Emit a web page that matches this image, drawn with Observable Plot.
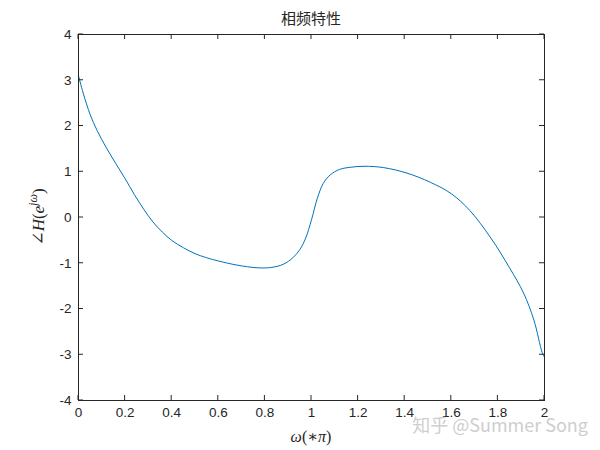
<!DOCTYPE html>
<html>
<head>
<meta charset="utf-8">
<script src="https://cdn.jsdelivr.net/npm/d3@7"></script>
<script src="https://cdn.jsdelivr.net/npm/@observablehq/plot@0.6"></script>
<style>
  html, body { margin: 0; padding: 0; background: #fff; }
  #chart { width: 600px; height: 450px; }
</style>
</head>
<body>
<div id="chart"></div>
<script>
// ---- data ----
const omega = [0, 0.02, 0.05, 0.08, 0.12, 0.16, 0.20, 0.24, 0.28, 0.32, 0.36, 0.40, 0.45, 0.50, 0.55, 0.60, 0.68, 0.77, 0.83, 0.88, 0.92, 0.95, 0.975, 1.0, 1.025, 1.05, 1.08, 1.12, 1.17, 1.23, 1.31, 1.41, 1.51, 1.60, 1.68, 1.77, 1.85, 1.91, 1.955, 1.99, 2.0];
const phase = [3.1, 2.72, 2.25, 1.9, 1.52, 1.18, 0.85, 0.5, 0.18, -0.10, -0.32, -0.50, -0.66, -0.79, -0.88, -0.95, -1.04, -1.10, -1.09, -1.02, -0.88, -0.70, -0.45, -0.05, 0.42, 0.74, 0.93, 1.05, 1.10, 1.12, 1.09, 0.97, 0.77, 0.52, 0.15, -0.45, -1.10, -1.65, -2.25, -2.95, -3.05];
const xTicks = [0, 0.2, 0.4, 0.6, 0.8, 1, 1.2, 1.4, 1.6, 1.8, 2];
const yTicks = [-4, -3, -2, -1, 0, 1, 2, 3, 4];
const titleText = "相频特性";
const watermark = "知乎 @Summer Song";

const data = omega.map((w, i) => ({w, v: phase[i]}));
const axisColor = "#262626";
const fmt = d => String(+d.toFixed(1));

const chart = Plot.plot({
  width: 600,
  height: 450,
  marginTop: 34,
  marginRight: 56,
  marginBottom: 50,
  marginLeft: 78,
  style: {fontFamily: "'Liberation Sans', Arial, sans-serif", fontSize: "13.5px", color: axisColor, background: "#fff"},
  x: {domain: [0, 2]},
  y: {domain: [-4, 4]},
  marks: [
    Plot.axisX({ticks: xTicks, tickSize: 0, tickPadding: 7, tickFormat: fmt, label: null, fontSize: 13.5}),
    Plot.axisY({ticks: yTicks, tickSize: 0, tickPadding: 7, tickFormat: fmt, label: null, fontSize: 13.5}),
    Plot.line(data, {x: "w", y: "v", stroke: "#0072BD", strokeWidth: 1, curve: "catmull-rom"}),
    Plot.frame({stroke: axisColor, strokeWidth: 1})
  ]
});

document.getElementById("chart").appendChild(chart);

// inward ticks on all four sides, positioned by the plot's scales
const sx = chart.scale("x"), sy = chart.scale("y");
const svg = d3.select(chart);
const [x0, x1] = sx.range;
const [y0, y1] = sy.range; // y0 bottom, y1 top
const tl = 5;
const tg = svg.append("g").attr("stroke", axisColor).attr("stroke-width", 1);
xTicks.forEach(t => {
  const px = sx.apply(t);
  tg.append("line").attr("x1", px).attr("x2", px).attr("y1", y0).attr("y2", y0 - tl);
  tg.append("line").attr("x1", px).attr("x2", px).attr("y1", y1).attr("y2", y1 + tl);
});
yTicks.forEach(t => {
  const py = sy.apply(t);
  tg.append("line").attr("x1", x0).attr("x2", x0 + tl).attr("y1", py).attr("y2", py);
  tg.append("line").attr("x1", x1).attr("x2", x1 - tl).attr("y1", py).attr("y2", py);
});

const cx = (x0 + x1) / 2, cy = (y0 + y1) / 2;

// title
svg.append("text")
  .attr("x", cx).attr("y", 24)
  .attr("text-anchor", "middle")
  .attr("font-family", "'Noto Sans CJK SC', sans-serif")
  .attr("font-size", 15)
  .attr("fill", axisColor)
  .text(titleText);

// x label: ω(*π)
const xl = svg.append("text")
  .attr("x", cx).attr("y", 442)
  .attr("text-anchor", "middle")
  .attr("font-family", "'Liberation Serif', 'DejaVu Serif', serif")
  .attr("font-size", 16)
  .attr("fill", axisColor);
xl.append("tspan").attr("font-style", "italic").text("ω");
xl.append("tspan").text("(∗");
xl.append("tspan").attr("font-style", "italic").text("π");
xl.append("tspan").text(")");

// y label: ∠H(e^{jω})
const yl = svg.append("text")
  .attr("transform", `translate(44,${cy}) rotate(-90)`)
  .attr("text-anchor", "middle")
  .attr("font-family", "'Liberation Serif', 'DejaVu Serif', serif")
  .attr("font-size", 17)
  .attr("fill", axisColor);
yl.append("tspan").text("∠");
yl.append("tspan").attr("font-style", "italic").text("H");
yl.append("tspan").text("(");
yl.append("tspan").attr("font-style", "italic").text("e");
yl.append("tspan").attr("font-style", "italic").attr("font-size", 12).attr("dy", -7).text("jω");
yl.append("tspan").attr("dy", 7).text(")");

// watermark
svg.append("text")
  .attr("x", 588).attr("y", 432)
  .attr("text-anchor", "end")
  .attr("font-family", "'Noto Sans CJK SC', sans-serif")
  .attr("font-size", 18)
  .attr("fill", "#c8c8c8")
  .attr("fill-opacity", 0.9)
  .text(watermark);
</script>
</body>
</html>
